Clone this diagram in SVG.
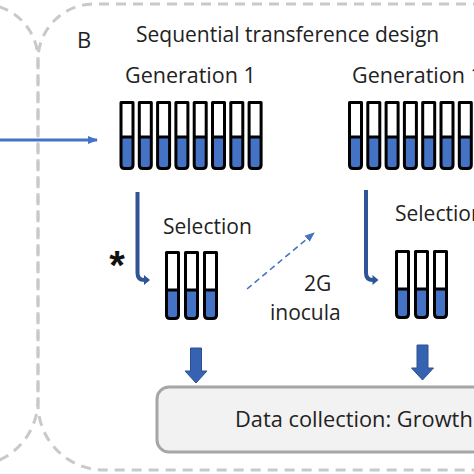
<svg xmlns="http://www.w3.org/2000/svg" xmlns:xlink="http://www.w3.org/1999/xlink" width="474" height="474" viewBox="0 0 474 474">
<style>
.t{font-family:"Open Sans","Noto Sans","Liberation Sans",sans-serif;fill:#222;}
.panel{fill:none;stroke:#c9c9cc;stroke-width:3;stroke-dasharray:10 7;}
.tube{fill:none;stroke:#000;stroke-width:3;stroke-linejoin:round;}
.blue{fill:#4472c4;}
.dark{fill:none;stroke:#2f5597;stroke-width:4;}
.block{fill:#3563b2;stroke:#2f528f;stroke-width:1;}
</style>
<defs>
<g id="tubeA">
<path d="M1.5,1.5H13.5V64Q13.5,67.5 10,67.5H5Q1.5,67.5 1.5,64Z" fill="#fff"/>
<path class="blue" d="M1.5,36H13.5V64Q13.5,67.5 10,67.5H5Q1.5,67.5 1.5,64Z"/>
<path class="tube" d="M1.5,1.5H13.5V64Q13.5,67.5 10,67.5H5Q1.5,67.5 1.5,64Z M1.5,36H13.5"/>
</g>
<g id="tubeB">
<path d="M1.5,1.5H13.5V64Q13.5,67.5 10,67.5H5Q1.5,67.5 1.5,64Z" fill="#fff"/>
<path class="blue" d="M1.5,39H13.5V64Q13.5,67.5 10,67.5H5Q1.5,67.5 1.5,64Z"/>
<path class="tube" d="M1.5,1.5H13.5V64Q13.5,67.5 10,67.5H5Q1.5,67.5 1.5,64Z M1.5,39H13.5"/>
</g>
<marker id="ahL" markerWidth="10" markerHeight="10" viewBox="0 0 10 10" refX="9" refY="5" orient="auto" markerUnits="userSpaceOnUse">
<path d="M0,1L10,5L0,9Z" fill="#4472c4"/>
</marker>
</defs>

<g id="panels">
<path class="panel" d="M-18,4 A56,56 0 0 1 38,60 V400 A66,66 0 0 1 -28,466"/>
<path class="panel" d="M500,4 H94 A56,56 0 0 0 38,60 V404 A66,66 0 0 0 104,470 H500"/>
</g>

<g id="labels">
<text class="t" x="77" y="48" font-size="22">B</text>
<text class="t" x="136" y="42" font-size="21">Sequential transference design</text>
</g>

<g id="gen1">
<text class="t" x="125" y="83" font-size="21.5">Generation 1</text>
<use xlink:href="#tubeA" x="119.5" y="101"/>
<use xlink:href="#tubeA" x="137.8" y="101"/>
<use xlink:href="#tubeA" x="156.1" y="101"/>
<use xlink:href="#tubeA" x="174.4" y="101"/>
<use xlink:href="#tubeA" x="192.7" y="101"/>
<use xlink:href="#tubeA" x="211" y="101"/>
<use xlink:href="#tubeA" x="229.3" y="101"/>
<use xlink:href="#tubeA" x="247.6" y="101"/>
</g>

<g id="gen2">
<text class="t" x="352" y="83" font-size="21.5">Generation 1</text>
<use xlink:href="#tubeA" x="348" y="101"/>
<use xlink:href="#tubeA" x="366.3" y="101"/>
<use xlink:href="#tubeA" x="384.6" y="101"/>
<use xlink:href="#tubeA" x="402.9" y="101"/>
<use xlink:href="#tubeA" x="421.2" y="101"/>
<use xlink:href="#tubeA" x="439.5" y="101"/>
<use xlink:href="#tubeA" x="457.8" y="101"/>
</g>

<g id="selection1">
<text class="t" x="163" y="234" font-size="21">Selection</text>
<use xlink:href="#tubeB" x="165" y="251"/>
<use xlink:href="#tubeB" x="184" y="251"/>
<use xlink:href="#tubeB" x="203" y="251"/>
</g>

<g id="selection2">
<text class="t" x="395" y="221" font-size="21">Selection</text>
<use xlink:href="#tubeB" x="395" y="250"/>
<use xlink:href="#tubeB" x="414" y="250"/>
<use xlink:href="#tubeB" x="433" y="250"/>
</g>

<g id="inocula">
<text class="t" x="304" y="291" font-size="21">2G</text>
<text class="t" x="270" y="320" font-size="21">inocula</text>
</g>

<g id="asterisk">
<text x="117" y="279" font-size="40" font-weight="bold" text-anchor="middle" font-family="Liberation Sans, sans-serif" fill="#111">*</text>
</g>

<g id="datacollection">
<rect x="157" y="387" width="340" height="65" rx="12" fill="#f2f2f2" stroke="#a6a6a6" stroke-width="3"/>
<text class="t" x="235" y="427" font-size="21.8">Data collection: Growth</text>
</g>

<g id="connectors">
<line x1="0" y1="140" x2="97" y2="140" stroke="#4472c4" stroke-width="3" marker-end="url(#ahL)"/>
<path class="dark" d="M137.5,192V273Q137.5,280 144.5,280H145"/>
<path d="M144,275L150,280L144,285Z" fill="#2f5597"/>
<path class="dark" d="M366,190V273Q366,280 373,280H373.5"/>
<path d="M372.5,275L378.5,280L372.5,285Z" fill="#2f5597"/>
<line x1="247" y1="289" x2="314" y2="233" stroke="#4472c4" stroke-width="1.6" stroke-dasharray="6 4" marker-end="url(#ahL)"/>
<path class="block" d="M190.5,348H201.5V371H207L196,383L185,371H190.5Z"/>
<path class="block" d="M417,345H428V368H433.5L422.5,380L411.5,368H417Z"/>
</g>
</svg>
